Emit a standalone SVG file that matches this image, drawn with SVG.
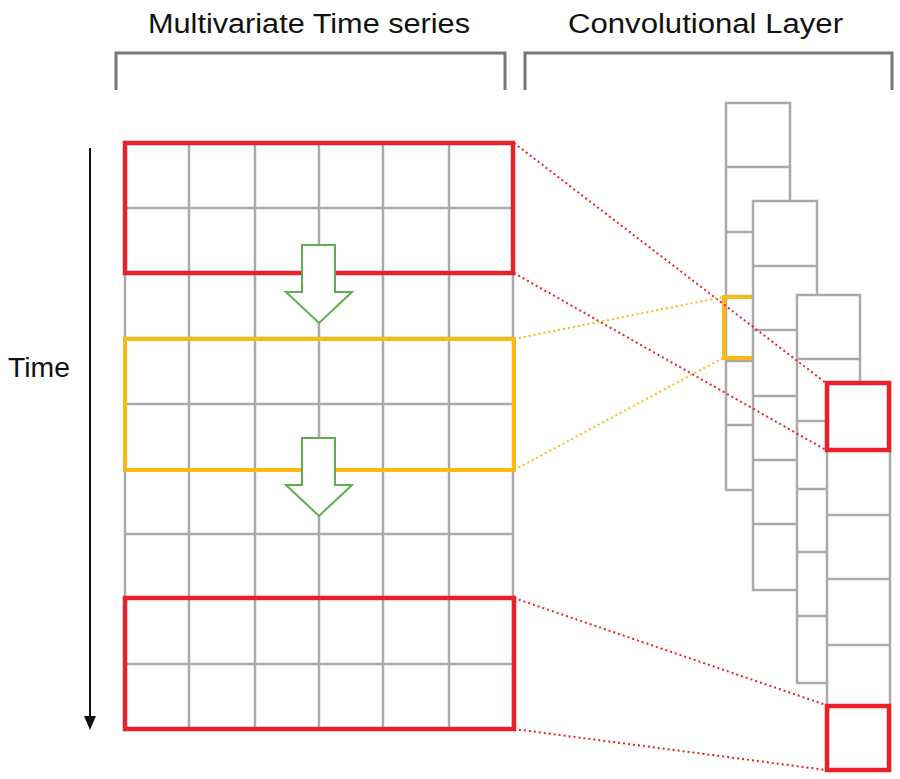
<svg xmlns="http://www.w3.org/2000/svg" width="900" height="779" viewBox="0 0 900 779">
<style>
.t{font-family:"Liberation Sans",Arial,sans-serif;font-size:27px;fill:#111}
.g{stroke:#aaa;stroke-width:2.5;fill:none}
.cell{stroke:#aaa;stroke-width:2.5;fill:#fff}
.br{stroke:#777;stroke-width:3;fill:none}
.red{stroke:#e8202a;stroke-width:4.5;fill:none}
.org{stroke:#fbb914;stroke-width:4;fill:none}
.dr{stroke:#e8202a;stroke-width:2;stroke-dasharray:2 3;fill:none}
.do{stroke:#fbb914;stroke-width:2;stroke-dasharray:2 3;fill:none}
.arr{stroke:#5cb04c;stroke-width:2;fill:#fff}
</style>
<rect width="900" height="779" fill="#fff"/>
<g id="labels">
<text class="t" x="148" y="33" textLength="322" lengthAdjust="spacingAndGlyphs">Multivariate Time series</text>
<text class="t" x="568" y="33" textLength="275" lengthAdjust="spacingAndGlyphs">Convolutional Layer</text>
<text class="t" x="8" y="377" textLength="62" lengthAdjust="spacingAndGlyphs">Time</text>
</g>
<g id="brackets">
<path class="br" d="M116 90V53H505V90"/>
<path class="br" d="M525 90V53H892V90"/>
</g>
<g id="time-axis">
<line x1="90" y1="148" x2="90" y2="718" stroke="#111" stroke-width="2"/>
<path d="M84 716L90 730L96 716Z" fill="#111"/>
</g>
<g id="grid">
<rect class="g" x="125" y="143" width="388" height="586"/>
<path class="g" d="M189 143V729M255 143V729M319 143V729M383 143V729M449 143V729M125 208H513M125 273H513M125 338H513M125 404H513M125 470H513M125 534H513M125 598H513M125 664H513"/>
</g>
<g id="windows">
<rect class="red" x="125" y="143" width="388" height="130"/>
<rect class="org" x="125" y="339" width="389" height="131"/>
<rect class="red" x="125" y="598" width="389" height="131"/>
</g>
<g id="shift-arrows">
<path class="arr" d="M302 245H335V292H352L319 323L286 292H302Z"/>
<path class="arr" d="M302 438H335V485H352L319 516L286 485H302Z"/>
</g>
<g id="col1"><rect class="cell" x="726" y="103" width="64" height="387"/><path class="g" d="M726 167H790M726 232H790M726 296H790M726 361H790M726 425H790"/></g>
<g id="orange-bracket"><path class="org" d="M752 297H724V358H752"/></g>
<g id="col2"><rect class="cell" x="753" y="201" width="64" height="389"/><path class="g" d="M753 266H817M753 330H817M753 396H817M753 460H817M753 524H817"/></g>
<g id="col3"><rect class="cell" x="797" y="295" width="63" height="388"/><path class="g" d="M797 359H860M797 421H860M797 489H860M797 552H860M797 616H860"/></g>
<g id="col4"><rect class="cell" x="827" y="383" width="63" height="387"/><path class="g" d="M827 515H890M827 579H890M827 645H890"/>
<rect class="red" x="827" y="383" width="62" height="67"/><rect class="red" x="827" y="706" width="62" height="64"/></g>
<g id="connectors">
<path class="dr" d="M514 143L826 383M514 273L826 450M514 598L826 705M514 729L826 770"/>
<path class="do" d="M514 339L723 297M514 470L723 358"/>
</g>
</svg>
